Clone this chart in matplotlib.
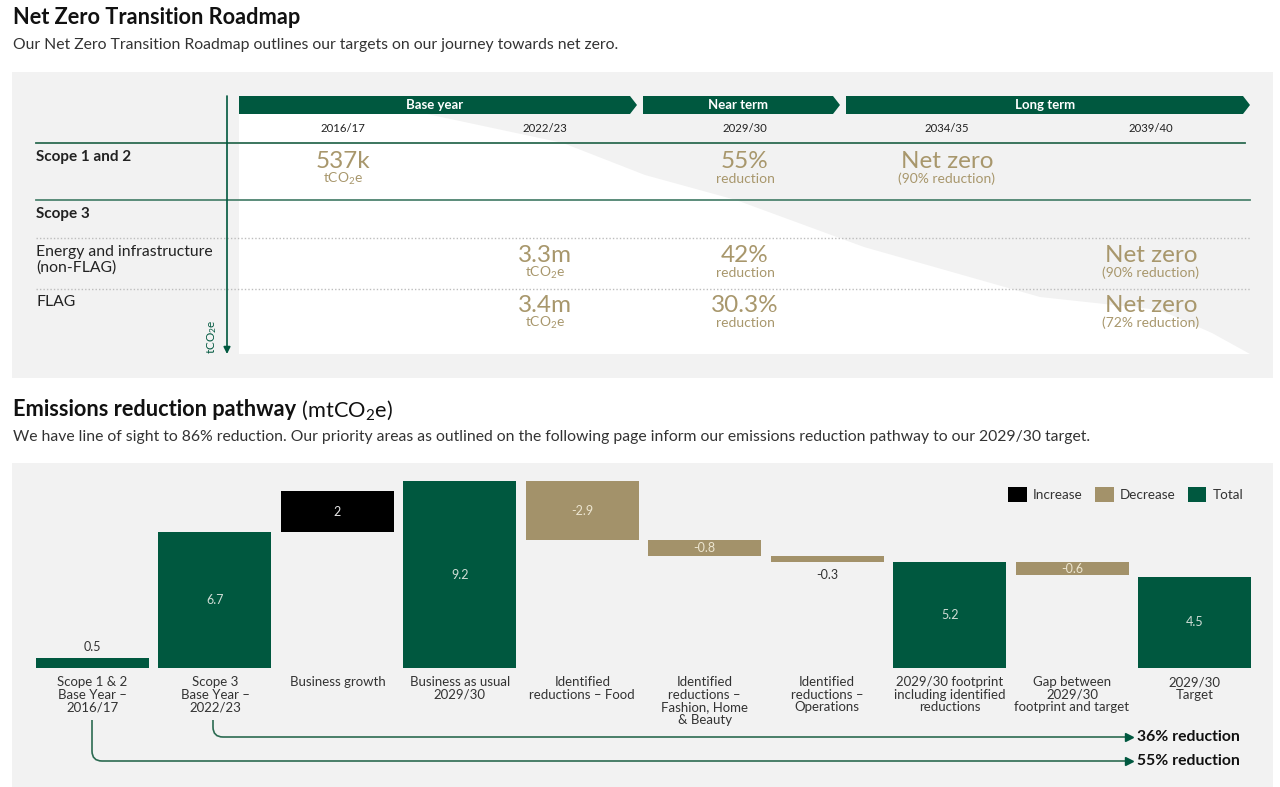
import matplotlib
matplotlib.use("Agg")
import matplotlib.pyplot as plt
from matplotlib.patches import Rectangle, Polygon, PathPatch
from matplotlib.path import Path

plt.rcParams['font.family'] = ['Lato', 'DejaVu Sans']
plt.rcParams['mathtext.default'] = 'regular'

GREEN = '#00583f'
GOLD = '#a3926a'
GOLD_TXT = '#a8976c'
BG = '#f2f2f2'

# --- roadmap data ---
phases = ['Base year', 'Near term', 'Long term']
phase_span = [(239, 637), (643, 840), (846, 1250)]
years = ['2016/17', '2022/23', '2029/30', '2034/35', '2039/40']
row_labels = ['Scope 1 and 2', 'Scope 3', 'Energy and infrastructure\n(non-FLAG)', 'FLAG']
scope12_targets = [('537k', 'tCO$_2$e'), None, ('55%', 'reduction'), ('Net zero', '(90% reduction)'), None]
energy_targets = [None, ('3.3m', 'tCO$_2$e'), ('42%', 'reduction'), None, ('Net zero', '(90% reduction)')]
flag_targets = [None, ('3.4m', 'tCO$_2$e'), ('30.3%', 'reduction'), None, ('Net zero', '(72% reduction)')]

# --- waterfall data ---
categories = ['Scope 1 & 2\nBase Year –\n2016/17', 'Scope 3\nBase Year –\n2022/23', 'Business growth',
              'Business as usual\n2029/30', 'Identified\nreductions – Food',
              'Identified\nreductions –\nFashion, Home\n& Beauty', 'Identified\nreductions –\nOperations',
              '2029/30 footprint\nincluding identified\nreductions', 'Gap between\n2029/30\nfootprint and target',
              '2029/30\nTarget']
values = [0.5, 6.7, 2, 9.2, -2.9, -0.8, -0.3, 5.2, -0.6, 4.5]
kinds = ['total', 'total', 'increase', 'total', 'decrease', 'decrease', 'decrease', 'total', 'decrease', 'total']
kind_color = {'increase': '#000000', 'decrease': GOLD, 'total': GREEN}
kind_txt = {'increase': '#e6e6e6', 'decrease': '#ece5d0', 'total': '#cfdcd5'}
reductions = ['36% reduction', '55% reduction']

fig = plt.figure(figsize=(12.8, 7.87), dpi=100)
ax = fig.add_axes([0, 0, 1, 1])
ax.set_xlim(0, 1280)
ax.set_ylim(787, 0)
ax.axis('off')

# titles
ax.text(13, 18, 'Net Zero Transition Roadmap', fontsize=15.7, fontweight='bold', color='#111', va='center')
ax.text(13, 45, 'Our Net Zero Transition Roadmap outlines our targets on our journey towards net zero.',
        fontsize=11.3, color='#333', va='center')
t1 = ax.text(13, 410, 'Emissions reduction pathway', fontsize=15.7, fontweight='bold', color='#111', va='center')
ax.annotate(' (mtCO$_2$e)', xy=(1, 0.5), xycoords=t1, fontsize=15.7, color='#111', va='center', ha='left')
ax.text(13, 437, 'We have line of sight to 86% reduction. Our priority areas as outlined on the following page '
        'inform our emissions reduction pathway to our 2029/30 target.', fontsize=11.3, color='#333', va='center')

# roadmap panel
ax.add_patch(Rectangle((12, 72), 1261, 306, color=BG, lw=0))
ax.add_patch(Rectangle((239, 114), 1011, 240, color='white', lw=0))
ax.add_patch(Polygon([(427, 114), (563, 143), (645, 175), (736, 200), (864, 247), (1040, 297),
                      (1160, 310), (1212, 333), (1250, 354), (1250, 114)], closed=True, color=BG, lw=0))

for name, (x0, x1) in zip(phases, phase_span):
    ax.add_patch(Polygon([(x0, 96), (x1 - 7, 96), (x1, 105), (x1 - 7, 114), (x0, 114)], closed=True,
                         color=GREEN, lw=0))
    ax.text((x0 + x1) / 2 - 3, 105, name, fontsize=9.5, fontweight='bold', color='white', ha='center', va='center')

col_x = [343, 545, 745, 947, 1151]
for x, y in zip(col_x, years):
    ax.text(x, 128, y, fontsize=8.2, color='#222', ha='center', va='center')

ax.plot([36, 1245], [143, 143], color='#2c6b52', lw=1.3)
ax.plot([36, 1250], [200, 200], color='#4e8470', lw=1.3)
ax.plot([36, 1250], [238, 238], color='#bdbdbd', lw=1, ls=(0, (1, 1.5)))
ax.plot([36, 1250], [289, 289], color='#bdbdbd', lw=1, ls=(0, (1, 1.5)))

ax.annotate('', xy=(227, 354), xytext=(227, 96),
            arrowprops=dict(arrowstyle='-|>', color=GREEN, lw=1.2, mutation_scale=10, shrinkA=0, shrinkB=0))
ax.text(212, 337, 'tCO$_2$e', fontsize=8.5, color=GREEN, rotation=90, ha='center', va='center')

row_y = [157, 214, 260, 302]
for i, (lab, y) in enumerate(zip(row_labels, row_y)):
    ax.text(36, y, lab, fontsize=11.3 if i >= 2 else 11, color='#222', va='center', linespacing=1.15,
            fontweight='bold' if i < 2 else 'normal')

for targets, y in [(scope12_targets, 161), (energy_targets, 255), (flag_targets, 305)]:
    for x, tg in zip(col_x, targets):
        if tg is None:
            continue
        big, small = tg
        ax.text(x, y, big, fontsize=17.5, color=GOLD_TXT, ha='center', va='center')
        ax.text(x, y + 18, small, fontsize=10, color=GOLD_TXT, ha='center', va='center')

# pathway panel
ax.add_patch(Rectangle((12, 463), 1261, 324, color=BG, lw=0))

ax2 = fig.add_axes([31.3 / 1280, (787 - 668) / 787, 1224.4 / 1280, 203 / 787])
ax2.set_facecolor('none')
ax2.set_xlim(-0.5, 9.5)
ax2.set_ylim(0, 10)
for s in ax2.spines.values():
    s.set_visible(False)
ax2.set_yticks([])

level = 0
handles = {}
for i, (v, k) in enumerate(zip(values, kinds)):
    if k == 'total':
        bottom, height = 0, v
        level = v
    else:
        bottom = level if v > 0 else level + v
        height = abs(v)
        level = level + v
    b = ax2.bar(i, height, bottom=bottom, width=0.923, color=kind_color[k], lw=0)
    handles.setdefault(k, b)
    lab = f'{v:g}'
    if height < 0.55:
        if k == 'total':
            ax2.text(i, bottom + height + 0.55, lab, ha='center', va='center', fontsize=9, color='#333')
        else:
            ax2.text(i, bottom - 0.6, lab, ha='center', va='center', fontsize=9, color='#333')
    else:
        ax2.text(i, bottom + height / 2, lab, ha='center', va='center', fontsize=9, color=kind_txt[k])

ax2.set_xticks(range(len(categories)), categories, fontsize=9.5, color='#333', linespacing=1.05)
ax2.tick_params(axis='x', length=0, pad=6)

ax2.legend([handles['increase'], handles['decrease'], handles['total']], ['Increase', 'Decrease', 'Total'],
           loc='upper right', bbox_to_anchor=(1250 / 1280, 1 - 480 / 787), bbox_transform=fig.transFigure,
           ncol=3, frameon=False, fontsize=9.7, handlelength=1.4, handleheight=1.35, handletextpad=0.45,
           columnspacing=0.9, borderpad=0, labelcolor='#333')

# reduction connectors
for (x, y0, y), txt in zip([(213, 720, 737), (92, 720, 761)], reductions):
    verts = [(x, y0), (x, y - 10), (x, y), (x + 10, y), (1126, y)]
    codes = [Path.MOVETO, Path.LINETO, Path.CURVE3, Path.CURVE3, Path.LINETO]
    ax.add_patch(PathPatch(Path(verts, codes), fill=False, edgecolor='#2c6b52', lw=1.2))
    ax.plot(1129, y, marker='>', ms=6, color=GREEN)
    ax.text(1137, y, txt, fontsize=11.3, fontweight='bold', color='#111', va='center')

fig.savefig('out.png', dpi=100)
